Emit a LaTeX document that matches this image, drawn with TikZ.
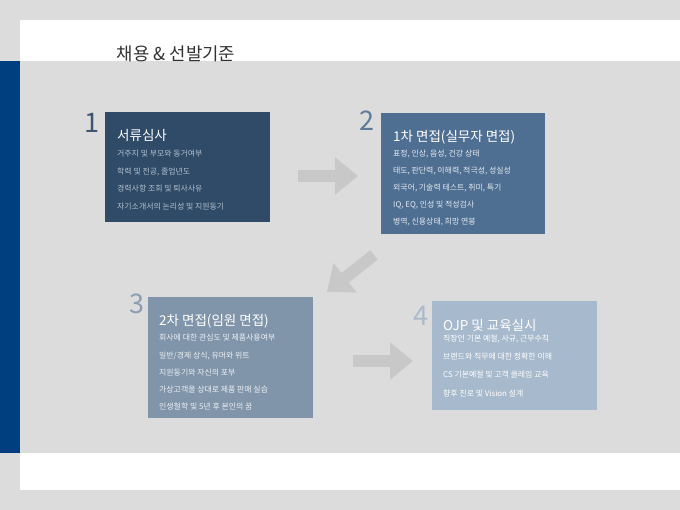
\documentclass[tikz,border=0pt]{standalone}
\usepackage{fontspec}
\setmainfont{Noto Sans CJK KR}
\usepackage{xcolor}
\usetikzlibrary{positioning,calc,arrows.meta}

\definecolor{pagegray}{HTML}{DCDCDC}
\definecolor{barblue}{HTML}{003F7F}
\definecolor{arrowgray}{HTML}{C8C8C8}
\definecolor{boxone}{HTML}{2F4B68}
\definecolor{boxtwo}{HTML}{4F6F92}
\definecolor{boxthree}{HTML}{8094AA}
\definecolor{boxfour}{HTML}{A7B9CC}
\definecolor{numone}{HTML}{3C5572}
\definecolor{numtwo}{HTML}{5D7B9B}
\definecolor{numthree}{HTML}{8C9DB1}
\definecolor{numfour}{HTML}{A9BACB}
\definecolor{itemone}{HTML}{B4C0CD}
\definecolor{itemtwo}{HTML}{E2E9F0}
\definecolor{itemthree}{HTML}{EEF1F5}

\tikzset{
  stage/.style={anchor=north west, inner sep=0pt},
  stagetitle/.style={anchor=base west, inner sep=0pt, text=white, font=\fontsize{13.5}{16}\selectfont},
  stageitem/.style={anchor=base west, inner sep=0pt, font=\fontsize{7.9}{9}\selectfont},
  stagenum/.style={anchor=base east, inner sep=0pt, font=\fontsize{27}{30}\selectfont},
  flow/.style={draw=arrowgray, line width=12pt, -{Triangle[length=23pt,width=36pt]}}
}

\begin{document}
\begin{tikzpicture}[x=1pt, y=-1pt]
    \useasboundingbox (0,0) rectangle (680,510);
    \fill[pagegray] (0,0) rectangle (680,510);
    \fill[white] (20,20) rectangle (680,61);
    \fill[white] (20,453) rectangle (680,490);
    \fill[barblue] (0,61) rectangle (20,453);

    \node[anchor=base, inner sep=0pt, text=black!80, font=\fontsize{17.8}{21}\selectfont] (title) at (176,60.5) {채용 \& 선발기준};

    % stage boxes
    \node[stage, fill=boxone, minimum width=165pt, minimum height=110pt] (box1) at (105,112) {};
    \node[stage, fill=boxtwo, minimum width=164pt, minimum height=121pt] (box2) at (381,113) {};
    \node[stage, fill=boxthree, minimum width=165pt, minimum height=121pt] (box3) at (148,297) {};
    \node[stage, fill=boxfour, minimum width=165pt, minimum height=109pt] (box4) at (432,301) {};

    \node[stagenum, text=numone] (n1) at (100,133) {1};
    \node[stagenum, text=numtwo] (n2) at (375,131) {2};
    \node[stagenum, text=numthree] (n3) at (145,314) {3};
    \node[stagenum, text=numfour] (n4) at (429,326) {4};

    \node[stagetitle] (t1) at ($(box1.north west)+(12,29)$) {서류심사};
    \node[stagetitle] (t2) at ($(box2.north west)+(12,29)$) {1차 면접(실무자 면접)};
    \node[stagetitle] (t3) at ($(box3.north west)+(11,29)$) {2차 면접(임원 면접)};
    \node[stagetitle] (t4) at ($(box4.north west)+(11,30)$) {OJP 및 교육실시};

    \foreach \t [count=\i from 0] in {거주지 및 부모와 동거여부, {학력 및 전공, 졸업년도}, 경력사항 조회 및 퇴사사유, 자기소개서의 논리성 및 지원동기}
        \node[stageitem, text=itemone] (b1i\i) at ($(box1.north west)+(12,45+17.5*\i)$) {\t};
    \foreach \t [count=\i from 0] in {{표정, 인상, 음성, 건강 상태}, {태도, 판단력, 이해력, 적극성, 성실성}, {외국어, 기술력 테스트, 취미, 특기}, {IQ, EQ, 인성 및 적성검사}, {병역, 신용상태, 희망 연봉}}
        \node[stageitem, text=itemtwo] (b2i\i) at ($(box2.north west)+(12,44+16.8*\i)$) {\t};
    \foreach \t [count=\i from 0] in {회사에 대한 관심도 및 제품사용여부, {일반/경제 상식, 유머와 위트}, 지원동기와 자신의 포부, 가상고객을 상대로 제품 판매 실습, 인생철학 및 5년 후 본인의 꿈}
        \node[stageitem, text=itemthree] (b3i\i) at ($(box3.north west)+(11,44+17.2*\i)$) {\t};
    \foreach \t [count=\i from 0] in {{직장인 기본 예절, 사규, 근무수칙}, 브랜드와 직무에 대한 정확한 이해, CS 기본예절 및 고객 클레임 교육, 향후 진로 및 Vision 설계}
        \node[stageitem, text=white] (b4i\i) at ($(box4.north west)+(11,41+18*\i)$) {\t};

    % flow arrows
    \coordinate (f1s) at (298,176);
    \coordinate (f1e) at (358,176);
    \coordinate (f2s) at (374,255);
    \coordinate (f2e) at (327,292);
    \coordinate (f3s) at (353,361);
    \coordinate (f3e) at (413,361);
    \draw[flow] (f1s) -- (f1e);
    \draw[flow] (f2s) -- (f2e);
    \draw[flow] (f3s) -- (f3e);
\end{tikzpicture}
\end{document}
